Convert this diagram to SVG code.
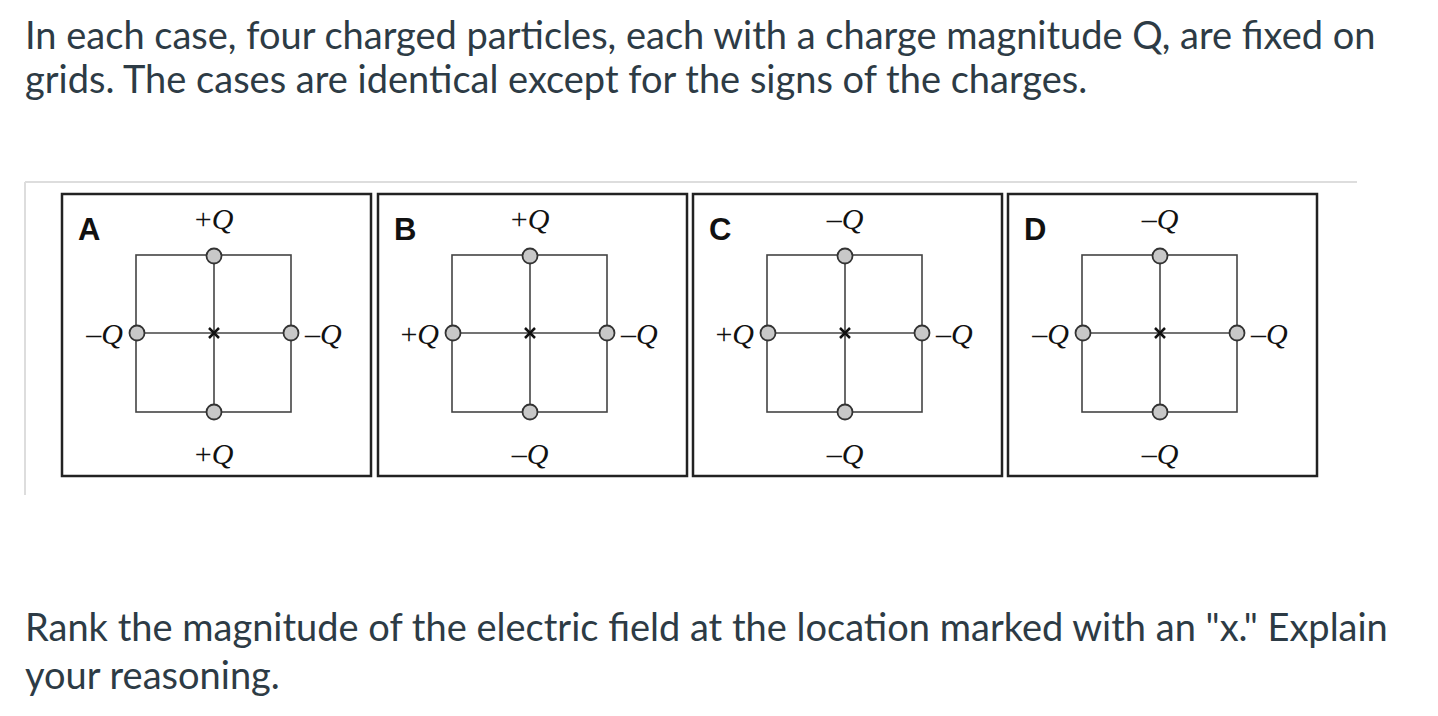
<svg xmlns="http://www.w3.org/2000/svg" width="1438" height="716" viewBox="0 0 1438 716">
<style>
.t{font-family:Lato,"Noto Sans",sans-serif;font-size:38px;fill:#2d3b45}
.box{fill:#fff;stroke:#222;stroke-width:2.5}
.g{fill:none;stroke:#444;stroke-width:1.6}
.c{fill:#c8c8c8;stroke:#333;stroke-width:1.8}
.q{font-family:"Liberation Serif",serif;font-size:30px;fill:#111}
.qi{font-style:italic}
.L{font-family:"Liberation Sans",Arial,sans-serif;font-weight:bold;font-size:31px;fill:#111}
</style>
<defs>
<g id="grid">
<rect class="box" x="62" y="194" width="309" height="282"/>
<rect class="g" x="136" y="255" width="155" height="157"/>
<line class="g" x1="214" y1="255" x2="214" y2="412"/>
<line class="g" x1="136" y1="333" x2="291" y2="333"/>
<path d="M209 328l10 10M219 328l-10 10" stroke="#111" stroke-width="2.5"/>
<circle class="c" cx="214" cy="256" r="7.5"/>
<circle class="c" cx="214" cy="412" r="7.5"/>
<circle class="c" cx="137" cy="333" r="7.5"/>
<circle class="c" cx="291" cy="333" r="7.5"/>
</g>
</defs>
<text class="t" x="25" y="49">In each case, four charged particles, each with a charge magnitude Q, are fixed on</text>
<text class="t" x="25" y="93">grids. The cases are identical except for the signs of the charges.</text>
<text class="t" x="25" y="641">Rank the magnitude of the electric field at the location marked with an "x." Explain</text>
<text class="t" x="25" y="689">your reasoning.</text>
<line x1="25" y1="182" x2="1357" y2="182" stroke="#ddd" stroke-width="2"/>
<line x1="25" y1="182" x2="25" y2="495" stroke="#ddd" stroke-width="2"/>
<g id="caseA">
<use href="#grid"/>
<text class="L" x="78" y="240">A</text>
<text class="q" x="214" y="229" text-anchor="middle">+<tspan class="qi">Q</tspan></text>
<text class="q" x="214" y="464" text-anchor="middle">+<tspan class="qi">Q</tspan></text>
<text class="q" x="123" y="344" text-anchor="end">–<tspan class="qi">Q</tspan></text>
<text class="q" x="305" y="344">–<tspan class="qi">Q</tspan></text>
</g>
<g id="caseB" transform="translate(316,0)">
<use href="#grid"/>
<text class="L" x="78" y="240">B</text>
<text class="q" x="214" y="229" text-anchor="middle">+<tspan class="qi">Q</tspan></text>
<text class="q" x="214" y="464" text-anchor="middle">–<tspan class="qi">Q</tspan></text>
<text class="q" x="123" y="344" text-anchor="end">+<tspan class="qi">Q</tspan></text>
<text class="q" x="305" y="344">–<tspan class="qi">Q</tspan></text>
</g>
<g id="caseC" transform="translate(631,0)">
<use href="#grid"/>
<text class="L" x="78" y="240">C</text>
<text class="q" x="214" y="229" text-anchor="middle">–<tspan class="qi">Q</tspan></text>
<text class="q" x="214" y="464" text-anchor="middle">–<tspan class="qi">Q</tspan></text>
<text class="q" x="123" y="344" text-anchor="end">+<tspan class="qi">Q</tspan></text>
<text class="q" x="305" y="344">–<tspan class="qi">Q</tspan></text>
</g>
<g id="caseD" transform="translate(946,0)">
<use href="#grid"/>
<text class="L" x="78" y="240">D</text>
<text class="q" x="214" y="229" text-anchor="middle">–<tspan class="qi">Q</tspan></text>
<text class="q" x="214" y="464" text-anchor="middle">–<tspan class="qi">Q</tspan></text>
<text class="q" x="123" y="344" text-anchor="end">–<tspan class="qi">Q</tspan></text>
<text class="q" x="305" y="344">–<tspan class="qi">Q</tspan></text>
</g>
<g id="connectors"/>
</svg>
